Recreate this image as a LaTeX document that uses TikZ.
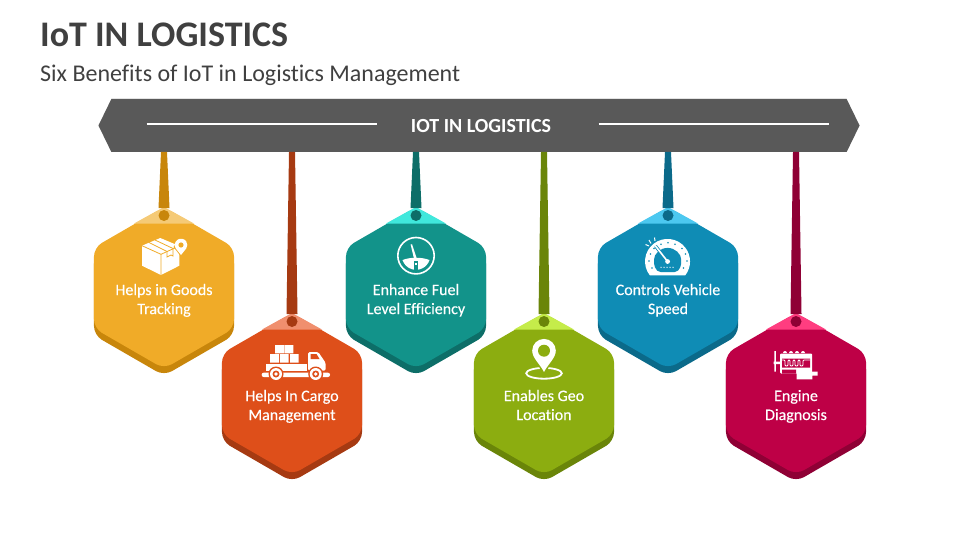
\documentclass[tikz,border=0pt]{standalone}
\usepackage{fontspec}
\setmainfont[Ligatures=NoCommon]{Carlito}
\usetikzlibrary{calc,positioning,shapes.geometric,shapes.symbols,shadows}
\definecolor{bandgray}{HTML}{595959}
\definecolor{titlegray}{HTML}{404040}
\definecolor{ambface}{HTML}{F0AB28}
\definecolor{ambdark}{HTML}{C8860B}
\definecolor{ambcap}{HTML}{F5CA76}
\definecolor{redface}{HTML}{DE4F1A}
\definecolor{reddark}{HTML}{A63A12}
\definecolor{redcap}{HTML}{F08F6E}
\definecolor{tealface}{HTML}{12938A}
\definecolor{tealdark}{HTML}{0D6E68}
\definecolor{tealcap}{HTML}{40E8DC}
\definecolor{limeface}{HTML}{8CAD10}
\definecolor{limedark}{HTML}{6A8509}
\definecolor{limecap}{HTML}{C5EC4A}
\definecolor{blueface}{HTML}{0F8CB5}
\definecolor{bluedark}{HTML}{0B6A8A}
\definecolor{bluecap}{HTML}{4CC8F0}
\definecolor{wineface}{HTML}{BE0046}
\definecolor{winedark}{HTML}{8F0035}
\definecolor{winecap}{HTML}{FF3D80}

\begin{document}
\begin{tikzpicture}[
    x=1pt, y=-1pt,
    hexbase/.style={regular polygon, regular polygon sides=6, regular polygon rotate=30,
                    minimum size=161.7pt, inner sep=0pt, outer sep=0pt,
                    rounded corners=9pt, fill=#1},
    hexdepth/.style={hexbase=#1, yshift=-7pt},
    stemline/.style={fill=#1},
    hexcap/.style={fill=#1},
    hook/.style={circle, fill=#1, minimum size=11pt, inner sep=0pt},
    caption/.style={text=white, align=center,
                    font=\fontsize{16}{19}\selectfont\addfontfeature{FakeBold=0.3},
                    execute at begin node=\strut, execute at end node=\strut},
    heading/.style={anchor=west, text=titlegray, inner sep=0pt},
    banner/.style={signal, signal to=west and east, signal pointer angle=128,
                   minimum width=761pt, minimum height=53pt, inner sep=0pt, outer sep=0pt,
                   fill=bandgray,
                   general shadow={fill=black!25, shift={(-1pt,1.5pt)}}},
    bannertext/.style={text=white, inner sep=0pt, font=\fontsize{20}{23}\bfseries\selectfont},
    rule/.style={white, line width=1.3pt}
]
  \useasboundingbox (0,0) rectangle (960,540);

  \node[heading, font=\fontsize{36}{40}\bfseries\selectfont] (title) at (40,35) {IoT IN LOGISTICS};
  \node[heading, font=\fontsize{24}{28}\selectfont] (subtitle) at (40,75) {Six Benefits of IoT in Logistics Management};

  \node[hexdepth=ambdark, below=0pt] (d1) at (164,207) {};
  \node[hexbase=ambface, below=0pt] (h1) at (164,207) {};
  \node[hexdepth=reddark, below=0pt] (d2) at (292,313) {};
  \node[hexbase=redface, below=0pt] (h2) at (292,313) {};
  \node[hexdepth=tealdark, below=0pt] (d3) at (416,207) {};
  \node[hexbase=tealface, below=0pt] (h3) at (416,207) {};
  \node[hexdepth=limedark, below=0pt] (d4) at (544,313) {};
  \node[hexbase=limeface, below=0pt] (h4) at (544,313) {};
  \node[hexdepth=bluedark, below=0pt] (d5) at (668,207) {};
  \node[hexbase=blueface, below=0pt] (h5) at (668,207) {};
  \node[hexdepth=winedark, below=0pt] (d6) at (796,313) {};
  \node[hexbase=wineface, below=0pt] (h6) at (796,313) {};

  \node[banner] (band) at (479,125.5) {};
  \node[bannertext] (bandlabel) at ($(band.center)+(2,1)$) {IOT IN LOGISTICS};
  \draw[rule] ($(band.west)+(48,-1.5)$) -- ($(band.west)+(278,-1.5)$);
  \draw[rule] ($(band.east)+(-261,-1.5)$) -- ($(band.east)+(-31,-1.5)$);

  \fill[hexcap=ambcap] (h1.north) -- ++(-30,16.5) -- ++(60,0) -- cycle;
  \fill[hexcap=redcap] (h2.north) -- ++(-30,16.5) -- ++(60,0) -- cycle;
  \fill[hexcap=tealcap] (h3.north) -- ++(-30,16.5) -- ++(60,0) -- cycle;
  \fill[hexcap=limecap] (h4.north) -- ++(-30,16.5) -- ++(60,0) -- cycle;
  \fill[hexcap=bluecap] (h5.north) -- ++(-30,16.5) -- ++(60,0) -- cycle;
  \fill[hexcap=winecap] (h6.north) -- ++(-30,16.5) -- ++(60,0) -- cycle;

  \node[hook=ambdark] (k1) at ($(h1.north)+(0,8.5)$) {};
  \node[hook=reddark] (k2) at ($(h2.north)+(0,8.5)$) {};
  \node[hook=tealdark] (k3) at ($(h3.north)+(0,8.5)$) {};
  \node[hook=limedark] (k4) at ($(h4.north)+(0,8.5)$) {};
  \node[hook=bluedark] (k5) at ($(h5.north)+(0,8.5)$) {};
  \node[hook=winedark] (k6) at ($(h6.north)+(0,8.5)$) {};

  \fill[stemline=ambdark] ($(band.south -| h1.north)+(-3,0)$) -- ($(h1.north)+(-5.5,1)$) -- ($(h1.north)+(5.5,1)$) -- ($(band.south -| h1.north)+(3,0)$) -- cycle;
  \fill[stemline=reddark] ($(band.south -| h2.north)+(-3,0)$) -- ($(h2.north)+(-5.5,1)$) -- ($(h2.north)+(5.5,1)$) -- ($(band.south -| h2.north)+(3,0)$) -- cycle;
  \fill[stemline=tealdark] ($(band.south -| h3.north)+(-3,0)$) -- ($(h3.north)+(-5.5,1)$) -- ($(h3.north)+(5.5,1)$) -- ($(band.south -| h3.north)+(3,0)$) -- cycle;
  \fill[stemline=limedark] ($(band.south -| h4.north)+(-3,0)$) -- ($(h4.north)+(-5.5,1)$) -- ($(h4.north)+(5.5,1)$) -- ($(band.south -| h4.north)+(3,0)$) -- cycle;
  \fill[stemline=bluedark] ($(band.south -| h5.north)+(-3,0)$) -- ($(h5.north)+(-5.5,1)$) -- ($(h5.north)+(5.5,1)$) -- ($(band.south -| h5.north)+(3,0)$) -- cycle;
  \fill[stemline=winedark] ($(band.south -| h6.north)+(-3,0)$) -- ($(h6.north)+(-5.5,1)$) -- ($(h6.north)+(5.5,1)$) -- ($(band.south -| h6.north)+(3,0)$) -- cycle;

  \node[caption] (c1) at ($(h1.center)+(0,14)$) {Helps in Goods\\Tracking};
  \node[caption] (c2) at ($(h2.center)+(0,14)$) {Helps In Cargo\\Management};
  \node[caption] (c3) at ($(h3.center)+(0,14)$) {Enhance Fuel\\Level Efficiency};
  \node[caption] (c4) at ($(h4.center)+(0,14)$) {Enables Geo\\Location};
  \node[caption] (c5) at ($(h5.center)+(0,14)$) {Controls Vehicle\\Speed};
  \node[caption] (c6) at ($(h6.center)+(0,14)$) {Engine\\Diagnosis};

  \fill[white] (160.3,238) -- (142,245.7) -- (142,265.7) -- (161,275) -- (179.3,265.7) -- (179.3,246) -- cycle;
  \draw[ambface, line width=.8pt] (142,245.7) -- (161,254.3) -- (179.3,246) (161,254.3) -- (161,275);
  \draw[ambface, line width=.8pt] (149,242.5) -- (167,251.5) -- (167,257) -- (171,255) -- (173,256) -- (173,248.5) -- (155,240);
  \fill[ambface] (181,256.5) -- (173.5,247) -- (181,236.5) -- (188.5,247) -- cycle;
  \fill[white] (181,255) -- (175.8,248.5) arc[start angle=146, end angle=394, radius=6.3] -- cycle;
  \fill[ambface] (181,245) circle (2.6);

  \fill[white] (275,345) rectangle (284,353.3) (284.7,345) rectangle (293.3,353.3);
  \fill[white] (270,354) rectangle (279,362.7) (280,354) rectangle (288.7,362.7) (290,354) rectangle (298.7,362.7);
  \fill[white] (266,364) rectangle (306.7,370.7);
  \fill[white, rounded corners=1.5pt] (308,370.7) -- (308,352) -- (318.3,352) -- (325.7,363) -- (325.7,370.7) -- cycle;
  \fill[redface] (310.5,354) -- (316.5,354) -- (319.5,359) -- (310.5,359) -- cycle;
  \fill[white, rounded corners=2pt] (261.7,372.7) rectangle (330,377);
  \fill[redface] (276,374) circle (7.5) (315.7,374) circle (7.5);
  \fill[white] (276,374) circle (6) (315.7,374) circle (6);
  \fill[redface] (276,374) circle (3.5) (315.7,374) circle (3.5);
  \fill[white] (276,374) circle (1.8) (315.7,374) circle (1.8);

  \draw[white, line width=1.6pt] (416,255.7) circle (18.2);
  \fill[white] (402.5,260) .. controls (410,257) and (422,257) .. (429.5,260) arc[start angle=18, end angle=162, radius=14.2] -- cycle;
  \fill[white] (410.6,244.5) -- (412,244.2) -- (417,259) -- (414.2,259.5) -- cycle;
  \fill[tealface] (413.5,261) rectangle (418,269.5);
  \fill[white] (414.5,262.5) rectangle (417,265);

  \draw[white, line width=1.8pt] (544,373.3) ellipse (17.8 and 5.4);
  \fill[limeface] (544,376) -- (530,350) -- (558,350) -- cycle;
  \fill[white] (544,372) .. controls (540,364) and (532.2,358) .. (532.2,350.7) arc[start angle=180, end angle=360, radius=11.8] .. controls (555.8,358) and (548,364) .. (544,372) -- cycle;
  \fill[limeface] (544,350.7) circle (6);

  \fill[white] (649.8,275.3) arc[start angle=142, end angle=398, radius=22.5] -- cycle;
  \fill[blueface, rounded corners=2pt] (658.5,272) .. controls (655.5,269) and (654,265.5) .. (654,261.5) arc[start angle=180, end angle=360, radius=13.6] .. controls (681.2,265.5) and (679.7,269) .. (676.7,272) -- cycle;
  \fill[blueface] (649,261) circle (.9) (650.5,254) circle (.9) (654,248.5) circle (.9) (661,244.2) circle (.9) (668,242.8) circle (.9) (675,244.2) circle (.9) (682,248.5) circle (.9) (685.5,254) circle (.9) (687,261) circle (.9) (652,268) circle (.9) (683.5,268) circle (.9);
  \fill[white] (661,267.3) circle (.7) (664,267.3) circle (.7) (667,267.3) circle (.7) (670,267.3) circle (.7) (673,267.3) circle (.7);
  \draw[blueface, line width=3.2pt] (655.5,246) -- (667.6,261.5);
  \draw[white, line width=1.6pt] (655.5,246) -- (667.6,261.5);
  \fill[white] (667.6,261.5) circle (2.4);
  \draw[white, line width=1pt] (645.5,244.5) -- (649,246) (649,240) -- (651,243.5) (654.5,237.5) -- (655,241);

  \fill[white] (783,353) arc[start angle=180, end angle=360, radius=2] (789,353) arc[start angle=180, end angle=360, radius=2] (795,353) arc[start angle=180, end angle=360, radius=2] (801,353) arc[start angle=180, end angle=360, radius=2];
  \fill[white, rounded corners=1pt] (780,353.5) rectangle (812,373.5);
  \fill[wineface] (782,358.5) rectangle (810,367.5) (782,369.5) -- (782,373.5) -- (796,373.5) -- (796,369.5) -- cycle;
  \draw[white, line width=.9pt, rounded corners=1pt] (782,360) -- (785,360) -- (785,366) -- (788,366) -- (788,360) -- (790,360) -- (790,366) -- (793,366) -- (793,360) -- (795,360) -- (795,366) -- (798,366) -- (798,360) -- (800,360) -- (800,366) -- (803,366) -- (803,360) -- (810,360);
  \fill[white] (796.7,373) rectangle (812.3,379.3) (812,371.7) rectangle (817.7,375.7);
  \fill[white] (774.3,351) rectangle (775.8,371.7) (773.7,361.5) rectangle (780,364);
\end{tikzpicture}
\end{document}
